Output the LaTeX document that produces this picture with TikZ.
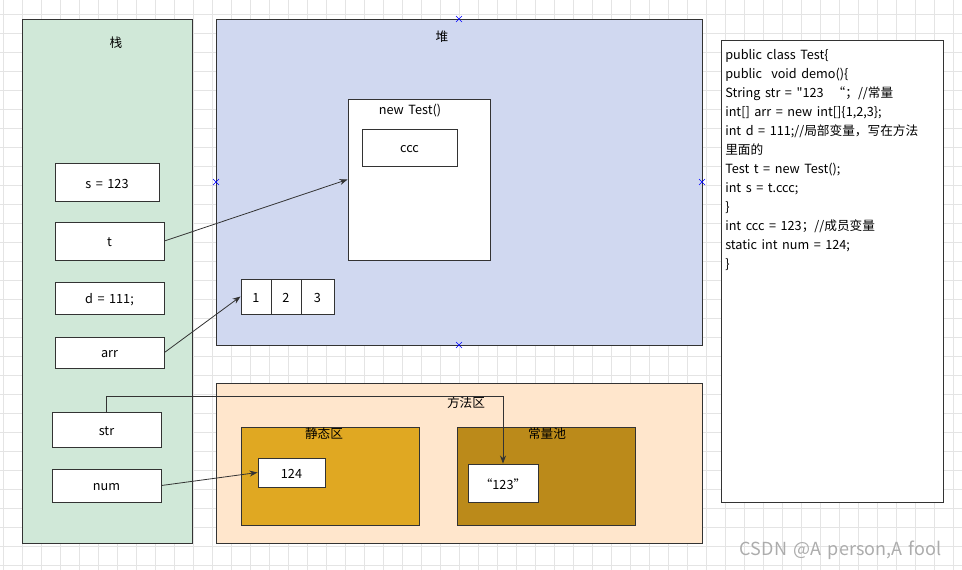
\documentclass[tikz,border=0pt]{standalone}
\usepackage{fontspec}
\setmainfont{Noto Sans CJK SC}[WordSpace=1.6]
\newfontfamily\rawfont{Noto Sans CJK SC}[WordSpace=1.6]
\usetikzlibrary{arrows.meta,positioning,fit}
\definecolor{gridgray}{RGB}{228,228,228}
\definecolor{linegray}{RGB}{51,51,51}
\definecolor{stackgreen}{RGB}{208,232,216}
\definecolor{heapblue}{RGB}{208,216,240}
\definecolor{methodpeach}{RGB}{255,230,204}
\definecolor{staticgold}{RGB}{224,168,34}
\definecolor{poolbrown}{RGB}{187,138,26}
\definecolor{markblue}{RGB}{0,0,255}

\begin{document}
\begin{tikzpicture}[x=0.75pt, y=-0.75pt,
    font=\fontsize{9.5}{14.25}\selectfont,
    every label/.append style={yshift=-1.2pt},
    area/.style={draw=linegray, line width=0.7pt, inner sep=0pt},
    cell/.style={draw=linegray, line width=0.7pt, fill=white, inner sep=0pt},
    link/.style={draw=linegray, line width=0.6pt, -{Stealth[length=6pt,width=4.5pt]}}]
  \useasboundingbox (0,0) rectangle (962,570);

  % background grid
  \foreach \x in {3,22,...,962}
    \draw[gridgray] (\x,0) -- (\x,570);
  \foreach \y in {14,33,...,570}
    \draw[gridgray] (0,\y) -- (962,\y);

  % memory areas
  \node[area, fill=stackgreen, fit={(22,19) (192,543)}] (stack) {};
  \node[area, fill=heapblue, fit={(216,19) (702,345)}] (heap) {};
  \node[area, fill=methodpeach, fit={(216,383) (702,543)}] (method) {};
  \node[area, fill=staticgold, fit={(241,427) (419,525)}] (static) {};
  \node[area, fill=poolbrown, fit={(457,427) (635,525)}] (pool) {};

  \node (stacklbl) at (116,43) {栈};
  \node (heaplbl) at (442,37) {堆};
  \node (methodlbl) at (466,403) {方法区};
  \node (staticlbl) at (324,434) {静态区};
  \node (poollbl) at (547,434) {常量池};

  % selection marks on the heap
  \foreach \x/\y in {459/19, 216/182, 702/182, 459/345}
    \draw[markblue, line width=0.5pt] (\x-3,\y-3) -- (\x+3,\y+3) (\x-3,\y+3) -- (\x+3,\y-3);

  % stack variables
  \node[cell, fit={(55,163) (159,201)}, label=center:{s = 123}] (s) {};
  \node[cell, fit={(55,222) (164,260)}, label=center:t] (t) {};
  \node[cell, fit={(55,282) (164,314)}, label=center:{d = 111;}] (d) {};
  \node[cell, fit={(55,337) (164,368)}, label=center:arr] (arr) {};
  \node[cell, fit={(52,412) (161,447)}, label=center:str] (str) {};
  \node[cell, fit={(52,469) (161,502)}, label=center:num] (num) {};

  % heap objects
  \node[cell, fit={(348,99) (490,260)}] (obj) {};
  \node (objlbl) at (410,111) {new Test()};
  \node[cell, fit={(362,129) (457,166)}, label=center:ccc] (ccc) {};
  \node[cell, fit={(241,279) (271,314)}, label=center:1] (a1) {};
  \node[cell, fit={(271,279) (301,314)}, label=center:2] (a2) {};
  \node[cell, fit={(301,279) (334,314)}, label=center:3] (a3) {};

  % method area values
  \node[cell, fit={(258,458) (325,487)}, label=center:124] (v124) {};
  \node[cell, fit={(468,464) (538,502)}, label=center:{“123”}] (v123) {};

  % source code
  \node[cell, fit={(721,40) (943,502)}] (codebox) {};
  \node[anchor=north west, align=left, inner sep=0pt] (code) at (725,49) {%
    public class Test\{\\
    public\ \ void demo()\{\\
    String str = {\rawfont"}123\ \ “；//常量\\
    int[] arr = new int[]\{1,2,3\};\\
    int d = 111;//局部变量，写在方法\\
    里面的\\
    Test t = new Test();\\
    int s = t.ccc;\\
    \}\\
    int ccc = 123；//成员变量\\
    static int num = 124;\\
    \}};

  % references
  \draw[link] (t.east) -- (obj.west);
  \draw[link] (arr.east) -- (a1.west);
  \draw[link] (num.east) -- (v124.west);
  \coordinate (strbend) at (106.5,396);
  \draw[link] (str.north) -- (strbend) -| (v123.north);

  \node[text=gray!65, font=\fontsize{13.5}{15}\selectfont, anchor=east] (mark) at (946,550) {CSDN @A person,A fool};
\end{tikzpicture}
\end{document}
